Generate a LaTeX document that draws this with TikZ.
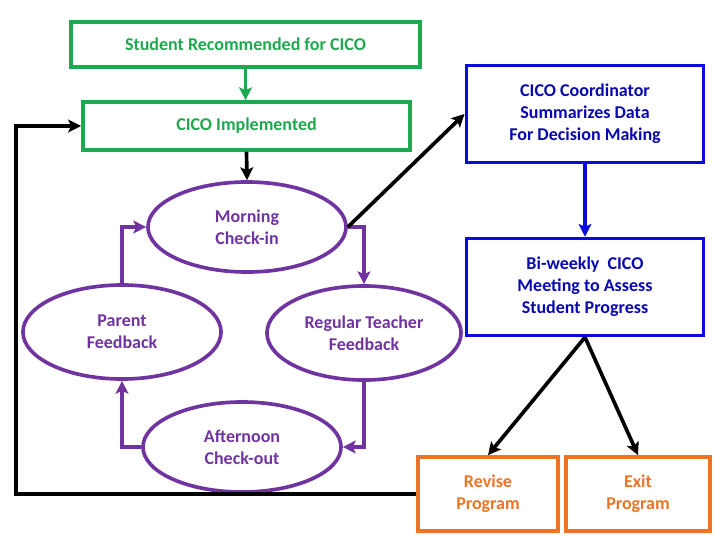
\documentclass[tikz,border=0pt]{standalone}
\usepackage{fontspec}
\setmainfont{Carlito}
\usepackage{xcolor}
\usetikzlibrary{positioning,arrows.meta,shapes.geometric}
\definecolor{cGreen}{HTML}{1EA84F}
\definecolor{cBlue}{HTML}{0A0ADC}
\definecolor{cPurple}{HTML}{7034A0}
\definecolor{cOrange}{HTML}{EC7424}
\tikzset{
  box/.style={draw, line width=2.6pt, align=center, inner sep=2pt,
              font=\bfseries\fontsize{12.8}{15.6}\selectfont},
  greenbox/.style={box, draw=cGreen, text=cGreen},
  bluebox/.style={box, draw=cBlue, text=cBlue!80!black, minimum width=5.93cm, minimum height=2.42cm},
  orangebox/.style={box, draw=cOrange, text=cOrange, minimum height=1.85cm},
  oval/.style={box, ellipse, draw=cPurple, text=cPurple, inner sep=0pt},
  flow/.style={-{Stealth[length=3.2mm,width=3.2mm,inset=0.7mm]}, line width=2.6pt},
  loop/.style={flow, draw=cPurple, line width=2.5pt},
}

\begin{document}
\begin{tikzpicture}[x=0.025cm, y=-0.025cm]
\useasboundingbox (0,0) rectangle (720,540);

%% ── top row: referral and start ───────────────────────────────────────────
\node[greenbox, minimum width=8.72cm, minimum height=1.12cm] (recom) at (245.5,44.5)
  {Student Recommended for CICO};
\node[greenbox, minimum width=8.18cm, minimum height=1.2cm] (impl) at (246.5,126)
  {CICO Implemented};

%% ── daily cycle ───────────────────────────────────────────────────────────
\node[oval, minimum width=4.95cm, minimum height=2.25cm] (morning) at (247,227)
  {Morning\\Check-in};
\node[oval, minimum width=4.85cm, minimum height=2.35cm] (teacher) at (364,333)
  {Regular Teacher\\Feedback};
\node[oval, minimum width=4.95cm, minimum height=2.25cm] (after) at (242,447)
  {Afternoon\\Check-out};
\node[oval, minimum width=4.95cm, minimum height=2.35cm] (parent) at (122,332)
  {Parent\\Feedback};

%% ── decision column ───────────────────────────────────────────────────────
\node[bluebox] (coord) at (585,114)
  {CICO Coordinator\\Summarizes Data\\For Decision Making};
\node[bluebox] (meet) at (585,287)
  {Bi-weekly~ CICO\\Meeting to Assess\\Student Progress};
\node[orangebox, minimum width=3.5cm] (revise) at (488,494) {Revise\\Program};
\node[orangebox, minimum width=3.6cm] (exit) at (638,494) {Exit\\Program};

%% ── connectors ────────────────────────────────────────────────────────────
\draw[flow, draw=cGreen] (recom.south) -- (recom.south |- impl.north);
\draw[flow] (impl.south) -- (morning.north);

\draw[loop] (morning.east) -| (teacher.north);
\draw[loop] (teacher.south) |- (after.east);
\draw[loop] (after.west) -| (parent.south);
\draw[loop] (parent.north) |- (morning.west);

\draw[flow] (morning.east) -- (coord.west);
\draw[flow, draw=cBlue] (coord.south) -- (meet.north);
\draw[flow] (meet.south) -- (revise.north);
\draw[flow] (meet.south) -- (exit.north);

% revise goes back round the left edge
\coordinate (rail) at (16,0);
\draw[flow] (revise.west) -| (rail |- impl.west) -- (impl.west);

\end{tikzpicture}
\end{document}
